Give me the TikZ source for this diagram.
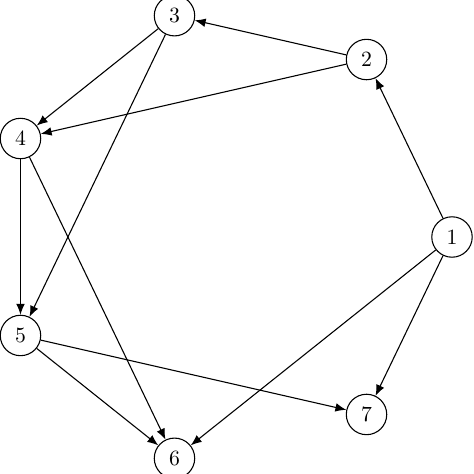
\documentclass[tikz,border=0pt]{standalone}
\usetikzlibrary{arrows.meta,calc}
\begin{document}
\begin{tikzpicture}[x=0.46pt,y=0.46pt,
  vert/.style={circle,draw,line width=0.5pt,minimum size=18.6pt,inner sep=0pt,font=\normalsize},
  edge/.style={-{Latex[length=5pt,width=4pt]},line width=0.5pt}]
\useasboundingbox (0,0) rectangle (474,474);
\coordinate (c) at (225,237);
\foreach \i in {1,...,7}{
  \node[vert] (n\i) at ($(c)+({(\i-1)*360/7}:227)$) {\i};
}
\draw[edge] (n1) -- (n2);
\draw[edge] (n2) -- (n3);
\draw[edge] (n2) -- (n4);
\draw[edge] (n3) -- (n4);
\draw[edge] (n3) -- (n5);
\draw[edge] (n4) -- (n5);
\draw[edge] (n4) -- (n6);
\draw[edge] (n5) -- (n6);
\draw[edge] (n5) -- (n7);
\draw[edge] (n1) -- (n6);
\draw[edge] (n1) -- (n7);
\end{tikzpicture}
\end{document}
